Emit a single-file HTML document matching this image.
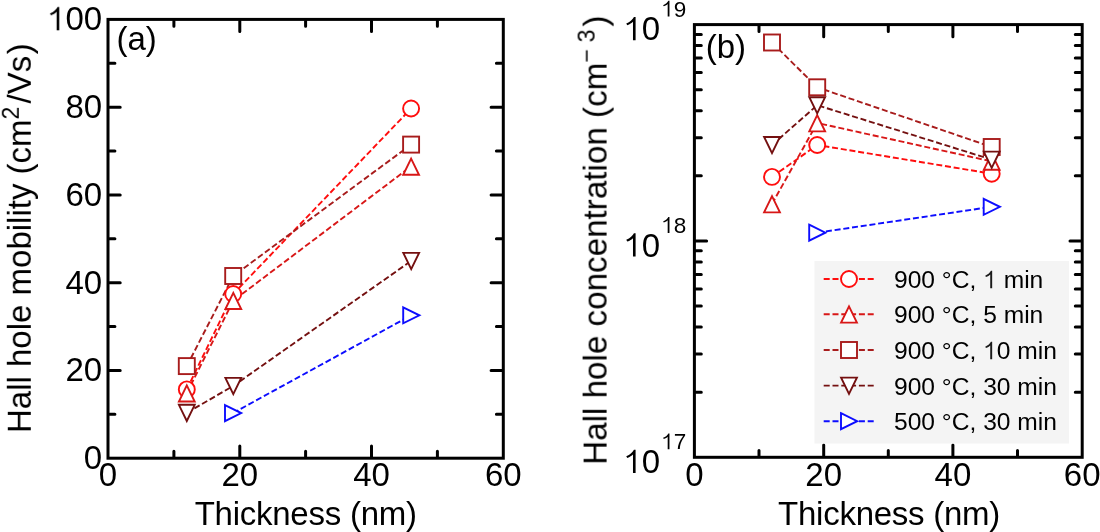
<!DOCTYPE html>
<html><head><meta charset="utf-8"><style>
html,body{margin:0;padding:0;background:#fff;width:1100px;height:532px;overflow:hidden}
svg{display:block}
text{will-change:transform}
.h1{fill-opacity:0}
text{font-family:"Liberation Sans", sans-serif;fill:#000}
</style></head><body>
<svg width="1100" height="532" viewBox="0 0 1100 532" font-family='"Liberation Sans", sans-serif'><rect x="108.0" y="19.4" width="395.3" height="438.8" fill="none" stroke="#000" stroke-width="3.0"/>
<path d="M239.8,456.7V446.0M239.8,20.9V31.6M371.5,456.7V446.0M371.5,20.9V31.6M173.9,456.7V451.3M173.9,20.9V26.3M305.6,456.7V451.3M305.6,20.9V26.3M437.4,456.7V451.3M437.4,20.9V26.3M109.5,370.4H120.2M501.8,370.4H491.1M109.5,282.7H120.2M501.8,282.7H491.1M109.5,194.9H120.2M501.8,194.9H491.1M109.5,107.2H120.2M501.8,107.2H491.1M109.5,414.3H114.9M501.8,414.3H496.4M109.5,326.6H114.9M501.8,326.6H496.4M109.5,238.8H114.9M501.8,238.8H496.4M109.5,151.0H114.9M501.8,151.0H496.4M109.5,63.3H114.9M501.8,63.3H496.4" stroke="#000" stroke-width="3.0" stroke-linecap="round" fill="none"/>
<rect x="694.4" y="24.6" width="387.8" height="432.7" fill="none" stroke="#000" stroke-width="3.0"/>
<path d="M823.7,455.8V445.1M823.7,26.1V36.8M952.9,455.8V445.1M952.9,26.1V36.8M759.0,455.8V450.4M759.0,26.1V31.5M888.3,455.8V450.4M888.3,26.1V31.5M1017.5,455.8V450.4M1017.5,26.1V31.5M695.9,240.9H706.6M1080.7,240.9H1070.0M695.9,392.2H701.3M1080.7,392.2H1075.3M695.9,354.1H701.3M1080.7,354.1H1075.3M695.9,327.0H701.3M1080.7,327.0H1075.3M695.9,306.1H701.3M1080.7,306.1H1075.3M695.9,288.9H701.3M1080.7,288.9H1075.3M695.9,274.5H701.3M1080.7,274.5H1075.3M695.9,261.9H701.3M1080.7,261.9H1075.3M695.9,250.8H701.3M1080.7,250.8H1075.3M695.9,175.8H701.3M1080.7,175.8H1075.3M695.9,137.7H701.3M1080.7,137.7H1075.3M695.9,110.7H701.3M1080.7,110.7H1075.3M695.9,89.7H701.3M1080.7,89.7H1075.3M695.9,72.6H701.3M1080.7,72.6H1075.3M695.9,58.1H701.3M1080.7,58.1H1075.3M695.9,45.6H701.3M1080.7,45.6H1075.3M695.9,34.5H701.3M1080.7,34.5H1075.3" stroke="#000" stroke-width="3.0" stroke-linecap="round" fill="none"/>
<path d="M186.8,389.4 L233.2,294.0 L411.1,108.5" fill="none" stroke="#ff0d0d" stroke-width="1.9" stroke-dasharray="6 2.8"/>
<path d="M186.8,393.1 L233.3,300.6 L411.1,166.4" fill="none" stroke="#d81717" stroke-width="1.9" stroke-dasharray="6 2.8"/>
<path d="M186.8,366.1 L233.2,276.0 L411.1,144.6" fill="none" stroke="#a81c1c" stroke-width="1.9" stroke-dasharray="6 2.8"/>
<path d="M186.8,412.8 L233.3,385.9 L411.2,260.9" fill="none" stroke="#741010" stroke-width="1.9" stroke-dasharray="6 2.8"/>
<path d="M233.0,413.1 L411.2,315.3" fill="none" stroke="#0d0dff" stroke-width="1.9" stroke-dasharray="6 2.8"/>
<circle cx="186.8" cy="389.4" r="8.0" fill="#fff" stroke="#ff0d0d" stroke-width="1.9"/>
<circle cx="233.2" cy="294.0" r="8.0" fill="#fff" stroke="#ff0d0d" stroke-width="1.9"/>
<circle cx="411.1" cy="108.5" r="8.0" fill="#fff" stroke="#ff0d0d" stroke-width="1.9"/>
<polygon points="186.8,385.3 194.7,401.5 178.9,401.5" fill="#fff" stroke="#d81717" stroke-width="1.9" stroke-linejoin="miter"/>
<polygon points="233.3,292.8 241.2,309.0 225.4,309.0" fill="#fff" stroke="#d81717" stroke-width="1.9" stroke-linejoin="miter"/>
<polygon points="411.1,158.6 419.0,174.8 403.2,174.8" fill="#fff" stroke="#d81717" stroke-width="1.9" stroke-linejoin="miter"/>
<rect x="178.8" y="358.1" width="16.0" height="16.0" fill="#fff" stroke="#a81c1c" stroke-width="1.9"/>
<rect x="225.2" y="268.0" width="16.0" height="16.0" fill="#fff" stroke="#a81c1c" stroke-width="1.9"/>
<rect x="403.1" y="136.6" width="16.0" height="16.0" fill="#fff" stroke="#a81c1c" stroke-width="1.9"/>
<polygon points="178.9,404.8 194.7,404.8 186.8,421.0" fill="#fff" stroke="#741010" stroke-width="1.9" stroke-linejoin="miter"/>
<polygon points="225.4,377.9 241.2,377.9 233.3,394.1" fill="#fff" stroke="#741010" stroke-width="1.9" stroke-linejoin="miter"/>
<polygon points="403.3,252.9 419.1,252.9 411.2,269.1" fill="#fff" stroke="#741010" stroke-width="1.9" stroke-linejoin="miter"/>
<polygon points="225.0,405.1 241.2,413.1 225.0,421.1" fill="#fff" stroke="#0d0dff" stroke-width="1.9" stroke-linejoin="miter"/>
<polygon points="403.2,307.3 419.4,315.3 403.2,323.3" fill="#fff" stroke="#0d0dff" stroke-width="1.9" stroke-linejoin="miter"/>
<path d="M772.0,176.9 L817.2,145.0 L991.7,173.7" fill="none" stroke="#ff0d0d" stroke-width="1.9" stroke-dasharray="6 2.8"/>
<path d="M772.0,204.0 L817.2,123.0 L991.7,161.4" fill="none" stroke="#d81717" stroke-width="1.9" stroke-dasharray="6 2.8"/>
<path d="M772.0,42.5 L817.2,87.3 L991.7,147.0" fill="none" stroke="#a81c1c" stroke-width="1.9" stroke-dasharray="6 2.8"/>
<path d="M772.0,145.0 L817.2,105.2 L991.7,159.6" fill="none" stroke="#741010" stroke-width="1.9" stroke-dasharray="6 2.8"/>
<path d="M817.2,232.7 L991.7,206.8" fill="none" stroke="#0d0dff" stroke-width="1.9" stroke-dasharray="6 2.8"/>
<circle cx="772.0" cy="176.9" r="8.0" fill="#fff" stroke="#ff0d0d" stroke-width="1.9"/>
<circle cx="817.2" cy="145.0" r="8.0" fill="#fff" stroke="#ff0d0d" stroke-width="1.9"/>
<circle cx="991.7" cy="173.7" r="8.0" fill="#fff" stroke="#ff0d0d" stroke-width="1.9"/>
<polygon points="772.0,196.2 779.9,212.4 764.1,212.4" fill="#fff" stroke="#d81717" stroke-width="1.9" stroke-linejoin="miter"/>
<polygon points="817.2,115.2 825.1,131.4 809.3,131.4" fill="#fff" stroke="#d81717" stroke-width="1.9" stroke-linejoin="miter"/>
<polygon points="991.7,153.6 999.6,169.8 983.8,169.8" fill="#fff" stroke="#d81717" stroke-width="1.9" stroke-linejoin="miter"/>
<rect x="764.0" y="34.5" width="16.0" height="16.0" fill="#fff" stroke="#a81c1c" stroke-width="1.9"/>
<rect x="809.2" y="79.3" width="16.0" height="16.0" fill="#fff" stroke="#a81c1c" stroke-width="1.9"/>
<rect x="983.7" y="139.0" width="16.0" height="16.0" fill="#fff" stroke="#a81c1c" stroke-width="1.9"/>
<polygon points="764.1,137.0 779.9,137.0 772.0,153.2" fill="#fff" stroke="#741010" stroke-width="1.9" stroke-linejoin="miter"/>
<polygon points="809.3,97.2 825.1,97.2 817.2,113.4" fill="#fff" stroke="#741010" stroke-width="1.9" stroke-linejoin="miter"/>
<polygon points="983.8,151.6 999.6,151.6 991.7,167.8" fill="#fff" stroke="#741010" stroke-width="1.9" stroke-linejoin="miter"/>
<polygon points="809.2,224.7 825.4,232.7 809.2,240.7" fill="#fff" stroke="#0d0dff" stroke-width="1.9" stroke-linejoin="miter"/>
<polygon points="983.7,198.8 999.9,206.8 983.7,214.8" fill="#fff" stroke="#0d0dff" stroke-width="1.9" stroke-linejoin="miter"/>
<rect x="814.5" y="261" width="254.5" height="182.5" fill="#f4f4f4"/>
<path d="M823.7,279.0H874.3" stroke="#ff0d0d" stroke-width="1.9" stroke-dasharray="6 2.8"/>
<circle cx="849.0" cy="279.0" r="8.0" fill="#fff" stroke="#ff0d0d" stroke-width="1.9"/>
<text x="894" y="288.2" font-size="24.6" fill="#1a1a1a">900 °C, <tspan class="h1">1</tspan> min</text>
<path d="M823.7,314.2H874.3" stroke="#d81717" stroke-width="1.9" stroke-dasharray="6 2.8"/>
<polygon points="849.0,306.4 856.9,322.6 841.1,322.6" fill="#fff" stroke="#d81717" stroke-width="1.9" stroke-linejoin="miter"/>
<text x="894" y="323.4" font-size="24.6" fill="#1a1a1a">900 °C, 5 min</text>
<path d="M823.7,350.0H874.3" stroke="#a81c1c" stroke-width="1.9" stroke-dasharray="6 2.8"/>
<rect x="841.0" y="342.0" width="16.0" height="16.0" fill="#fff" stroke="#a81c1c" stroke-width="1.9"/>
<text x="894" y="359.2" font-size="24.6" fill="#1a1a1a">900 °C, <tspan class="h1">1</tspan>0 min</text>
<path d="M823.7,385.6H874.3" stroke="#741010" stroke-width="1.9" stroke-dasharray="6 2.8"/>
<polygon points="841.1,377.6 856.9,377.6 849.0,393.8" fill="#fff" stroke="#741010" stroke-width="1.9" stroke-linejoin="miter"/>
<text x="894" y="394.8" font-size="24.6" fill="#1a1a1a">900 °C, 30 min</text>
<path d="M823.7,421.2H874.3" stroke="#0d0dff" stroke-width="1.9" stroke-dasharray="6 2.8"/>
<polygon points="841.0,413.2 857.2,421.2 841.0,429.2" fill="#fff" stroke="#0d0dff" stroke-width="1.9" stroke-linejoin="miter"/>
<text x="894" y="430.4" font-size="24.6" fill="#1a1a1a">500 °C, 30 min</text>
<text x="102.2" y="469.1" font-size="33" text-anchor="end" >0</text>
<text x="102.2" y="381.3" font-size="33" text-anchor="end" >20</text>
<text x="102.2" y="293.6" font-size="33" text-anchor="end" >40</text>
<text x="102.2" y="205.8" font-size="33" text-anchor="end" >60</text>
<text x="102.2" y="118.1" font-size="33" text-anchor="end" >80</text>
<text x="102.2" y="30.3" font-size="33" text-anchor="end" ><tspan class="h1">1</tspan>00</text>
<text x="108.0" y="486.3" font-size="33" text-anchor="middle" >0</text>
<text x="239.8" y="486.3" font-size="33" text-anchor="middle" >20</text>
<text x="371.5" y="486.3" font-size="33" text-anchor="middle" >40</text>
<text x="503.3" y="486.3" font-size="33" text-anchor="middle" >60</text>
<text x="305.7" y="525.1" font-size="33" text-anchor="middle" letter-spacing="-0.25">Thickness (nm)</text>
<text x="116.5" y="50.3" font-size="33" text-anchor="start" >(a)</text>
<text transform="translate(30.8,433) rotate(-90)" font-size="33">Hall hole mobility (cm<tspan font-size="23" dy="-12.4">2</tspan><tspan dy="12.4" dx="3.2">/Vs</tspan><tspan dx="1.5">)</tspan></text>
<text x="694.4" y="486.3" font-size="33" text-anchor="middle" >0</text>
<text x="823.7" y="486.3" font-size="33" text-anchor="middle" >20</text>
<text x="952.9" y="486.3" font-size="33" text-anchor="middle" >40</text>
<text x="1082.2" y="486.3" font-size="33" text-anchor="middle" >60</text>
<text x="889.1" y="525.1" font-size="33" text-anchor="middle" letter-spacing="-0.25">Thickness (nm)</text>
<text x="705.7" y="57.8" font-size="33" text-anchor="start" >(b)</text>
<text x="660.2" y="40.3" font-size="33" text-anchor="end"><tspan class="h1">1</tspan>0</text>
<text x="661.2" y="16.6" font-size="22.5"><tspan class="h1">1</tspan>9</text>
<text x="660.2" y="256.6" font-size="33" text-anchor="end"><tspan class="h1">1</tspan>0</text>
<text x="661.2" y="232.9" font-size="22.5"><tspan class="h1">1</tspan>8</text>
<text x="660.2" y="473.0" font-size="33" text-anchor="end"><tspan class="h1">1</tspan>0</text>
<text x="661.2" y="449.3" font-size="22.5"><tspan class="h1">1</tspan>7</text>
<text transform="translate(606.6,464.8) rotate(-90)" font-size="33.2">Hall hole concentration (cm<tspan font-size="23" dy="-12.4">−</tspan><tspan font-size="23" dx="7">3</tspan><tspan dy="12.4" dx="2.8">)</tspan></text><path transform="translate(983.14,288.20) scale(0.01201,-0.01201)" d="M590,0L752,0L752,1445L650,1445C570,1310 420,1130 172,1040L235,935C400,990 510,1060 590,1145Z" fill="#1a1a1a"/>
<path transform="translate(983.14,359.20) scale(0.01201,-0.01201)" d="M590,0L752,0L752,1445L650,1445C570,1310 420,1130 172,1040L235,935C400,990 510,1060 590,1145Z" fill="#1a1a1a"/>
<path transform="translate(47.12,30.30) scale(0.01611,-0.01611)" d="M590,0L752,0L752,1445L650,1445C570,1310 420,1130 172,1040L235,935C400,990 510,1060 590,1145Z" fill="#000"/>
<path transform="translate(623.48,40.30) scale(0.01611,-0.01611)" d="M590,0L752,0L752,1445L650,1445C570,1310 420,1130 172,1040L235,935C400,990 510,1060 590,1145Z" fill="#000"/>
<path transform="translate(661.20,16.60) scale(0.01099,-0.01099)" d="M590,0L752,0L752,1445L650,1445C570,1310 420,1130 172,1040L235,935C400,990 510,1060 590,1145Z" fill="#000"/>
<path transform="translate(623.48,256.60) scale(0.01611,-0.01611)" d="M590,0L752,0L752,1445L650,1445C570,1310 420,1130 172,1040L235,935C400,990 510,1060 590,1145Z" fill="#000"/>
<path transform="translate(661.20,232.90) scale(0.01099,-0.01099)" d="M590,0L752,0L752,1445L650,1445C570,1310 420,1130 172,1040L235,935C400,990 510,1060 590,1145Z" fill="#000"/>
<path transform="translate(623.48,473.00) scale(0.01611,-0.01611)" d="M590,0L752,0L752,1445L650,1445C570,1310 420,1130 172,1040L235,935C400,990 510,1060 590,1145Z" fill="#000"/>
<path transform="translate(661.20,449.30) scale(0.01099,-0.01099)" d="M590,0L752,0L752,1445L650,1445C570,1310 420,1130 172,1040L235,935C400,990 510,1060 590,1145Z" fill="#000"/></svg>
</body></html>
